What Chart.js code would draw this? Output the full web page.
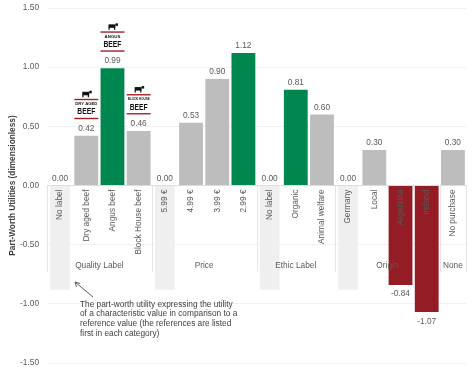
<!DOCTYPE html>
<html>
<head>
<meta charset="utf-8">
<style>
  html, body { margin: 0; padding: 0; background: #fff; }
  #wrap { position: relative; width: 474px; height: 372px; }
</style>
<script src="https://cdn.jsdelivr.net/npm/chart.js@4/dist/chart.umd.min.js"></script>
</head>
<body>
<div id="wrap"><canvas id="utilChart"></canvas></div>
<script>
const categories = ['No label', 'Dry aged beef', 'Angus beef', 'Block House beef',
  '5.99 €', '4.99 €', '3.99 €', '2.99 €',
  'No label', 'Organic', 'Animal welfare',
  'Germany', 'Local', 'Argentina', 'Ireland', 'No purchase'];
const utilities = [0, 0.42, 0.99, 0.46, 0, 0.53, 0.90, 1.12, 0, 0.81, 0.60, 0, 0.30, -0.84, -1.07, 0.30];
const barKinds = ['g', 'g', 'p', 'g', 'g', 'g', 'g', 'p', 'g', 'p', 'g', 'g', 'g', 'n', 'n', 'g'];
const referenceBands = [-0.88, null, null, null, -0.88, null, null, null, -0.88, null, null, -0.88, null, null, null, null];
const groupNames = ['Quality Label', 'Price', 'Ethic Label', 'Origin', 'None'];
const groupStarts = [0, 4, 8, 11, 15];
const badgeBars = [1, 2, 3];
const badgeNames = ['DRY AGED', 'ANGUS', 'BLOCK HOUSE'];
const noteLines = ['The part-worth utility expressing the utility',
  'of a characteristic value in comparison to a',
  'reference value (the references are listed',
  'first in each category)'];

const kindColors = { g: '#bdbdbd', p: '#00874f', n: '#941c24' };
const textColor = '#595959';
const fontName = '"Liberation Sans", Arial, sans-serif';
const fontSize = 8.3;

function drawCow(ctx, cx, cy) {
  ctx.fillStyle = '#111';
  ctx.fillRect(cx - 4, cy - 2, 7, 3.5);
  ctx.fillRect(cx + 3, cy - 3, 2.5, 2.5);
  ctx.fillRect(cx - 4, cy + 1, 1.2, 2.5);
  ctx.fillRect(cx + 1.5, cy + 1, 1.2, 2.5);
}

const annotations = {
  id: 'annotations',
  afterDatasetsDraw(chart) {
    const ctx = chart.ctx, x = chart.scales.x, y = chart.scales.y;
    ctx.save();
    ctx.textAlign = 'center';

    // group separators and names
    const slot = x.getPixelForValue(1) - x.getPixelForValue(0);
    ctx.strokeStyle = '#e4e4e4';
    ctx.lineWidth = 1;
    groupStarts.concat(categories.length).forEach(function (s) {
      const px = Math.round(x.getPixelForValue(s) - slot / 2) + 0.5;
      ctx.beginPath();
      ctx.moveTo(px, y.getPixelForValue(0));
      ctx.lineTo(px, y.getPixelForValue(-0.73));
      ctx.stroke();
    });
    ctx.font = fontSize + 'px ' + fontName;
    ctx.fillStyle = textColor;
    ctx.textBaseline = 'middle';
    groupNames.forEach(function (name, i) {
      const first = groupStarts[i];
      const last = i + 1 < groupStarts.length ? groupStarts[i + 1] - 1 : categories.length - 1;
      ctx.fillText(name, (x.getPixelForValue(first) + x.getPixelForValue(last)) / 2, y.getPixelForValue(-0.68));
    });

    // value labels
    utilities.forEach(function (v, i) {
      const px = x.getPixelForValue(i), py = y.getPixelForValue(v);
      ctx.textBaseline = v < 0 ? 'top' : 'bottom';
      ctx.fillText(v.toFixed(2), px, v < 0 ? py + 5 : py - 3);
    });

    // beef badges above the bars
    ctx.textBaseline = 'middle';
    badgeBars.forEach(function (b, i) {
      const px = x.getPixelForValue(b), top = y.getPixelForValue(utilities[b]);
      ctx.fillStyle = '#a3202a';
      ctx.fillRect(px - 12, top - 18, 24, 1.4);
      ctx.fillRect(px - 12, top - 37, 24, 1.4);
      ctx.fillStyle = '#111';
      ctx.font = 'bold 9.5px ' + fontName;
      ctx.fillText('BEEF', px, top - 24, 18);
      ctx.font = 'bold 4.4px ' + fontName;
      ctx.fillText(badgeNames[i], px, top - 32, 22);
      drawCow(ctx, px, top - 42);
    });

    // note and arrow
    ctx.font = fontSize + 'px ' + fontName;
    ctx.fillStyle = '#404040';
    ctx.textAlign = 'left';
    noteLines.forEach(function (line, i) {
      ctx.fillText(line, 80, 304.5 + i * 9.7);
    });
    ctx.strokeStyle = '#606060';
    ctx.beginPath();
    ctx.moveTo(93, 297);
    ctx.lineTo(75, 282);
    ctx.moveTo(75, 282);
    ctx.lineTo(80, 283.5);
    ctx.moveTo(75, 282);
    ctx.lineTo(76.5, 287);
    ctx.stroke();
    ctx.restore();
  }
};

new Chart(document.getElementById('utilChart').getContext('2d'), {
  type: 'bar',
  data: {
    labels: categories,
    datasets: [
      {
        label: 'Utility', data: utilities, order: 1,
        backgroundColor: barKinds.map(function (k) { return kindColors[k]; }),
        barPercentage: 0.91, categoryPercentage: 1, grouped: false
      },
      {
        label: 'Reference', data: referenceBands, order: 2,
        backgroundColor: '#efefef',
        barPercentage: 0.76, categoryPercentage: 1, grouped: false
      }
    ]
  },
  options: {
    responsive: true, maintainAspectRatio: false, animation: false,
    layout: { padding: { top: 8, right: 8, bottom: 9, left: 0 } },
    plugins: { legend: { display: false }, tooltip: { enabled: false } },
    scales: {
      x: {
        position: { y: 0 },
        grid: { display: false, drawTicks: false },
        border: { color: '#dcdcdc' },
        afterFit: function (scale) { scale.paddingTop = 0; scale.paddingBottom = 0; scale.height = 0; },
        ticks: {
          z: 1, autoSkip: false, minRotation: 90, maxRotation: 90, padding: 4,
          color: textColor, font: { family: fontName, size: fontSize }
        }
      },
      y: {
        min: -1.5, max: 1.5,
        afterFit: function (scale) { scale.width = 47; scale.paddingTop = 0; scale.paddingBottom = 0; },
        grid: { color: '#f1f1f1', drawTicks: false },
        border: { display: false },
        title: {
          display: true, text: 'Part-Worth Utilities (dimensionless)',
          color: '#404040', padding: { top: 8, bottom: 0 },
          font: { family: fontName, size: fontSize, weight: 'bold' }
        },
        ticks: {
          stepSize: 0.5, padding: 8, color: textColor,
          font: { family: fontName, size: fontSize },
          callback: function (v) { return v.toFixed(2); }
        }
      }
    }
  },
  plugins: [annotations]
});
</script>
</body>
</html>
